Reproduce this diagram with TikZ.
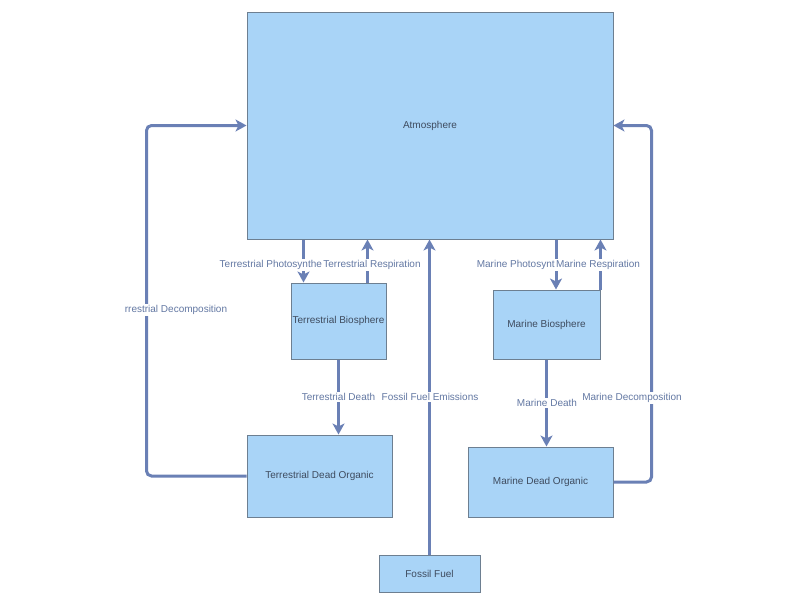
\documentclass[tikz,border=0pt]{standalone}
\usepackage{fontspec}
\setmainfont{Liberation Sans}
\usetikzlibrary{arrows.meta}
\definecolor{stockfill}{HTML}{A9D4F7}
\definecolor{stockline}{HTML}{6D7F91}
\definecolor{stocktext}{HTML}{3E4B5E}
\definecolor{flowline}{HTML}{6A80B5}
\definecolor{flowtext}{HTML}{6378A3}
\begin{document}
\begin{tikzpicture}[x=1pt, y=-1pt, font=\fontsize{10}{12}\selectfont]
       \tikzstyle{stock}=[draw=stockline, fill=stockfill, line width=1pt, inner sep=0pt, text=stocktext]
       \tikzstyle{flow}=[draw=flowline, line width=3pt, rounded corners=5pt, -{Stealth[length=11pt, width=12pt, inset=3pt]}]
       \tikzstyle{flowlabel}=[fill=white, text=flowtext, inner sep=1pt]
       \useasboundingbox (0,0) rectangle (800,600);
       % stocks
       \node[stock, minimum width=366pt, minimum height=227pt] (atmosphere) at (430,125.5) {Atmosphere};
       \node[stock, minimum width=95pt, minimum height=76pt] (terrbio) at (338.5,321) {Terrestrial Biosphere};
       \node[stock, minimum width=107pt, minimum height=69pt] (marbio) at (546.5,324.5) {Marine Biosphere};
       \node[stock, minimum width=145pt, minimum height=82pt] (terrdead) at (319.5,476) {Terrestrial Dead Organic};
       \node[stock, minimum width=145pt, minimum height=70pt] (mardead) at (540.5,482) {Marine Dead Organic};
       \node[stock, minimum width=101pt, minimum height=37pt] (fossil) at (429.5,573.5) {Fossil Fuel};
       % flows
       \draw[flow] ([xshift=13pt]terrbio.north west |- atmosphere.south) -- ([xshift=13pt]terrbio.north west);
       \draw[flow] ([xshift=-19pt]terrbio.north east) -- ([xshift=-19pt]terrbio.north east |- atmosphere.south);
       \draw[flow] ([xshift=9.5pt]marbio.north |- atmosphere.south) -- ([xshift=9.5pt]marbio.north);
       \draw[flow] (marbio.north east) -- (marbio.north east |- atmosphere.south);
       \draw[flow] (terrbio.south) -- (terrbio.south |- terrdead.north);
       \draw[flow] (marbio.south) -- (marbio.south |- mardead.north);
       \draw[flow] (fossil.north) -- (fossil.north |- atmosphere.south);
       \draw[flow] (terrdead.west) -- ([xshift=-100pt]terrdead.west) |- (atmosphere.west);
       \draw[flow] (mardead.east) -- ([xshift=38pt]mardead.east) |- (atmosphere.east);
       % labels
       \node[flowlabel] (terrresp) at (372,265) {Terrestrial Respiration};
       \node[flowlabel, anchor=east, inner xsep=0pt] (terrphoto) at (terrresp.west) {Terrestrial Photosynthe};
       \node[flowlabel] (marresp) at (598,265) {Marine Respiration};
       \node[flowlabel, anchor=east, inner xsep=0pt] (marphoto) at (marresp.west) {Marine Photosynt};
       \node[flowlabel] (terrdeath) at (338.5,397) {Terrestrial Death};
       \node[flowlabel] (fossilemit) at (430,397) {Fossil Fuel Emissions};
       \node[flowlabel] (mardeath) at (547,403) {Marine Death};
       \node[flowlabel] (terrdecomp) at (176,310) {rrestrial Decomposition};
       \node[flowlabel] (mardecomp) at (632,398) {Marine Decomposition};
\end{tikzpicture}
\end{document}
